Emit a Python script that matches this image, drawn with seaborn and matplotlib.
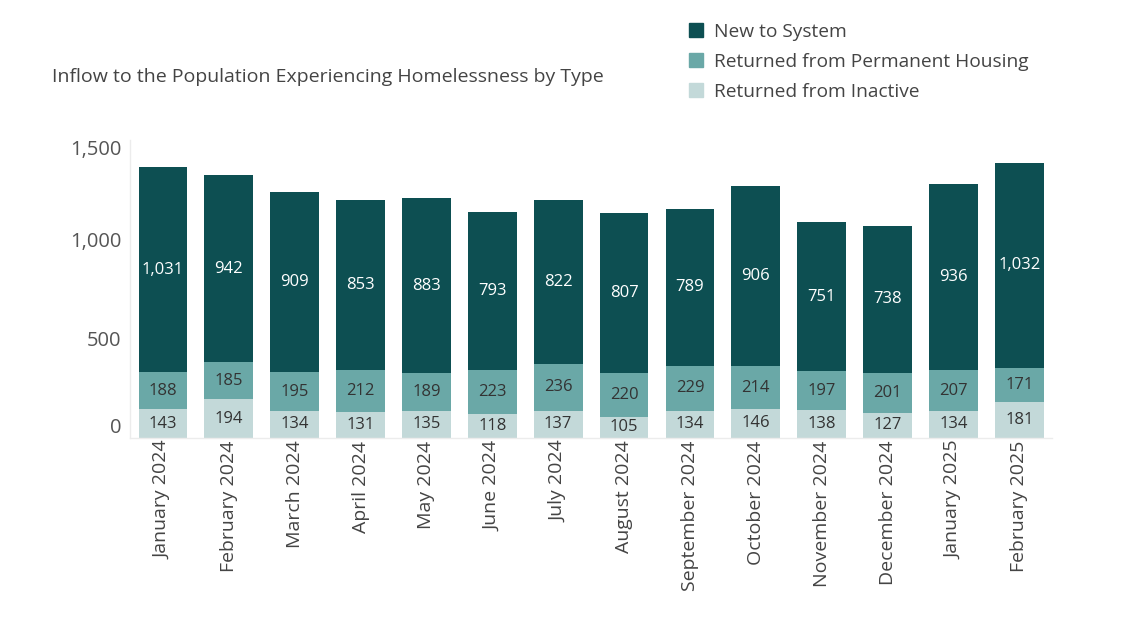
import seaborn as sns
import matplotlib.pyplot as plt
from matplotlib.patches import Patch
import matplotlib.transforms as mtransforms
import pandas as pd

months = ['January 2024', 'February 2024', 'March 2024', 'April 2024', 'May 2024',
          'June 2024', 'July 2024', 'August 2024', 'September 2024', 'October 2024',
          'November 2024', 'December 2024', 'January 2025', 'February 2025']
new_to_system = [1031, 942, 909, 853, 883, 793, 822, 807, 789, 906, 751, 738, 936, 1032]
returned_ph = [188, 185, 195, 212, 189, 223, 236, 220, 229, 214, 197, 201, 207, 171]
returned_inactive = [143, 194, 134, 131, 135, 118, 137, 105, 134, 146, 138, 127, 134, 181]

c_new = '#0d4f52'
c_ph = '#6aa8a7'
c_inact = '#c3d9d9'

df = pd.DataFrame({'month': months, 'new': new_to_system,
                   'ph': returned_ph, 'inact': returned_inactive})
df['base_new'] = df['inact'] + df['ph']

sns.set_style('white')
plt.rcParams['font.family'] = ['Open Sans', 'DejaVu Sans']

fig = plt.figure(figsize=(11.4, 6.41), dpi=100)
ax = fig.add_axes([0.114, 0.317, 0.809, 0.465])

w = 0.74
sns.barplot(data=df, x='month', y='inact', color=c_inact, width=w, saturation=1,
            linewidth=0, ax=ax)
sns.barplot(data=df, x='month', y='ph', bottom=df['inact'], color=c_ph, width=w,
            saturation=1, linewidth=0, ax=ax)
sns.barplot(data=df, x='month', y='new', bottom=df['base_new'], color=c_new, width=w,
            saturation=1, linewidth=0, ax=ax)

for i in range(len(months)):
    ax.text(i, df['inact'][i] / 2, f"{df['inact'][i]:,}", ha='center', va='center',
            fontsize=12, color='#333333')
    ax.text(i, df['inact'][i] + df['ph'][i] / 2, f"{df['ph'][i]:,}", ha='center',
            va='center', fontsize=12, color='#333333')
    ax.text(i, df['base_new'][i] + df['new'][i] / 2, f"{df['new'][i]:,}", ha='center',
            va='center', fontsize=12, color='white')

ax.set_xlim(-0.5, len(months) - 0.5)
ax.set_ylim(0, 1495)
ax.set_yticks([0, 500, 1000, 1500])
ax.set_yticklabels(['0', '500', '1,000', '1,500'], fontsize=14.5, color='#555555')
ylabels = ax.get_yticklabels()
ylabels[0].set_va('bottom')
ylabels[-1].set_va('top')
# nudge the top label down a little, as in the original
ylabels[-1].set_transform(ylabels[-1].get_transform() +
                          mtransforms.ScaledTranslation(0, -6 / 100, fig.dpi_scale_trans))
ax.set_xticks(range(len(months)))
ax.set_xticklabels(months, rotation=90, fontsize=14, color='#444444')
ax.tick_params(axis='x', length=0, pad=2)
ax.tick_params(axis='y', length=0, pad=6)
ax.set_xlabel('')
ax.set_ylabel('')
for s in ['top', 'right']:
    ax.spines[s].set_visible(False)
for s in ['left', 'bottom']:
    ax.spines[s].set_color('#ececec')
    ax.spines[s].set_linewidth(1)

fig.text(0.046, 0.88, 'Inflow to the Population Experiencing Homelessness by Type',
         fontsize=14, color='#444444', va='center')

handles = [Patch(color=c_new, label='New to System'),
           Patch(color=c_ph, label='Returned from Permanent Housing'),
           Patch(color=c_inact, label='Returned from Inactive')]
fig.legend(handles=handles, loc='upper left', bbox_to_anchor=(0.589, 0.991),
           frameon=False, fontsize=13.8, handlelength=0.75, handleheight=0.75,
           handletextpad=0.55, labelspacing=0.62, labelcolor='#444444')

fig.savefig('out.png', dpi=100)
